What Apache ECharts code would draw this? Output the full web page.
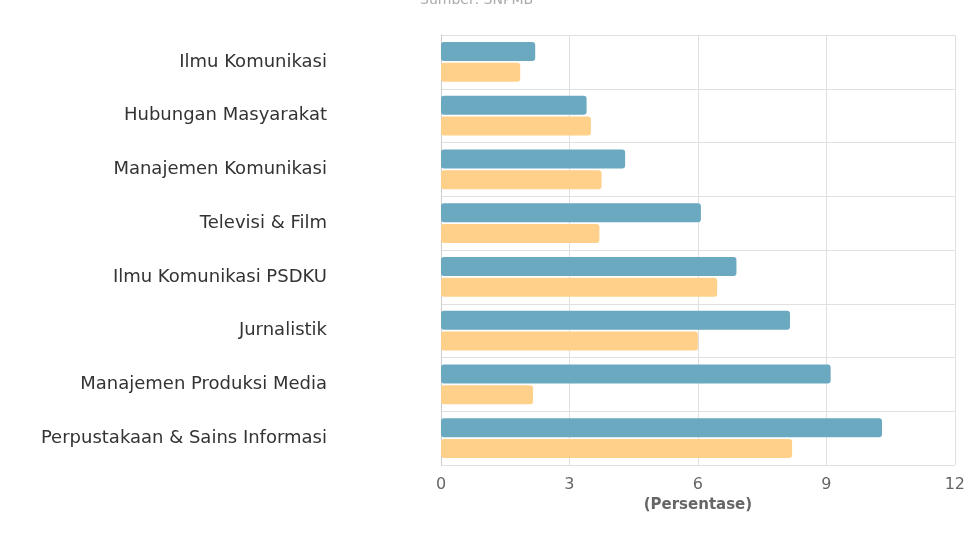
<!DOCTYPE html>
<html>
<head>
<meta charset="utf-8">
<script src="https://cdn.jsdelivr.net/npm/echarts@6/dist/echarts.min.js"></script>
<style>html,body{margin:0;padding:0;background:#fff}#c{width:968px;height:543px}</style>
</head>
<body>
<div id="c"></div>
<script>
const categories = ['Ilmu Komunikasi', 'Hubungan Masyarakat', 'Manajemen Komunikasi', 'Televisi & Film',
  'Ilmu Komunikasi PSDKU', 'Jurnalistik', 'Manajemen Produksi Media', 'Perpustakaan & Sains Informasi'];
const seriesA = [2.2, 3.4, 4.3, 6.07, 6.9, 8.15, 9.1, 10.3];
const seriesB = [1.85, 3.5, 3.75, 3.7, 6.45, 6.0, 2.15, 8.2];

const chart = echarts.init(document.getElementById('c'));
chart.setOption({
  animation: false,
  textStyle: { fontFamily: 'DejaVu Sans' },
  graphic: [{ type: 'text', left: 420, top: -7, style: { text: 'Sumber: SNPMB', fill: '#aaa', fontSize: 14, fontFamily: 'DejaVu Sans' } }],
  grid: { left: 441, right: 13, top: 35, bottom: 78 },
  xAxis: {
    type: 'value', min: 0, max: 12, interval: 3,
    name: '(Persentase)', nameLocation: 'middle', nameGap: 32,
    nameTextStyle: { fontSize: 15, fontWeight: 'bold', color: '#666' },
    axisLabel: { fontSize: 16, color: '#666', margin: 12 },
    axisLine: { show: false }, axisTick: { show: false },
    splitLine: { lineStyle: { color: '#e0e0e0' } }
  },
  yAxis: {
    type: 'category', data: categories, inverse: true,
    axisLabel: { fontSize: 18, color: '#333', margin: 114 },
    axisLine: { lineStyle: { color: '#ccc' } }, axisTick: { show: false },
    splitLine: { show: true, lineStyle: { color: '#e0e0e0' } }
  },
  series: [
    { type: 'bar', data: seriesA, barWidth: 19, barGap: '10%', itemStyle: { color: '#6aa9bf', borderRadius: 3 } },
    { type: 'bar', data: seriesB, barWidth: 19, itemStyle: { color: '#ffd08a', borderRadius: 3 } }
  ]
});
</script>
</body>
</html>
